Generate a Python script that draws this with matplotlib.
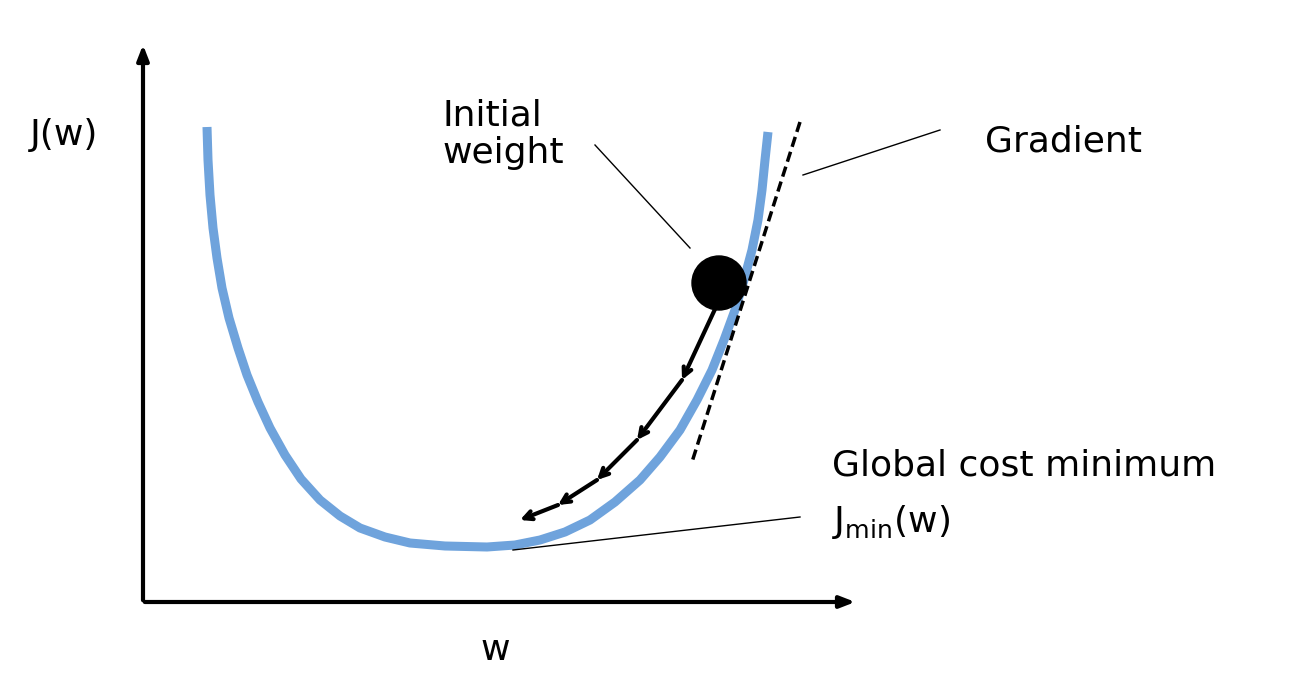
import matplotlib.pyplot as plt
from matplotlib.patches import Circle

# cost curve J(w) in pixel coordinates
curve_x = [207, 208, 210, 213, 217, 222, 229, 238, 247, 258, 270, 285, 301, 320, 340, 360, 385, 410, 445, 487,
           515, 540, 565, 590, 615, 640, 660, 680, 697, 712, 724, 735, 744, 752, 758, 762, 765, 768]
curve_y = [127, 160, 195, 228, 258, 288, 318, 348, 375, 402, 428, 455, 479, 500, 516, 528, 537, 543, 546, 547,
           545, 540, 532, 520, 502, 480, 457, 430, 400, 370, 340, 310, 280, 250, 220, 190, 160, 132]

# descent steps (arrow tails and heads)
step_x = [716, 682, 637, 597, 558, 520]
step_y = [307, 380, 440, 480, 505, 520]

ball = (719, 283)
tangent_x = [800, 692]
tangent_y = [122, 462]

fig = plt.figure(figsize=(13.14, 6.92), dpi=100)
ax = fig.add_axes([0, 0, 1, 1])
ax.set_xlim(0, 1314)
ax.set_ylim(692, 0)
ax.axis('off')

# axes arrows
ax.annotate('', xy=(143, 42), xytext=(143, 603),
            arrowprops=dict(arrowstyle='-|>,head_length=0.9,head_width=0.35', lw=3, color='black'))
ax.annotate('', xy=(858, 602), xytext=(142, 602),
            arrowprops=dict(arrowstyle='-|>,head_length=0.9,head_width=0.35', lw=3, color='black'))

ax.plot(curve_x, curve_y, color='#6fa3dc', lw=6.5, solid_capstyle='butt')
ax.plot(tangent_x, tangent_y, color='black', lw=2.5, ls=(0, (3, 1.5)))

for i in range(len(step_x) - 1):
    ax.annotate('', xy=(step_x[i + 1], step_y[i + 1]), xytext=(step_x[i], step_y[i]),
                arrowprops=dict(arrowstyle='->,head_length=0.6,head_width=0.3', lw=3, color='black',
                                shrinkA=0, shrinkB=0))

ax.add_patch(Circle(ball, 27, color='black', zorder=5))

# annotation leader lines
ax.plot([595, 690], [145, 248], color='black', lw=1)
ax.plot([803, 940], [175, 130], color='black', lw=1)
ax.plot([513, 800], [550, 517], color='black', lw=1)

fs = 26
ax.text(442, 98, 'Initial\nweight', fontsize=fs, va='top', ha='left', linespacing=1.15)
ax.text(985, 142, 'Gradient', fontsize=fs, va='center', ha='left')
ax.text(832, 465, 'Global cost minimum', fontsize=fs, va='center', ha='left')
ax.text(832, 522, r'J$_{\mathregular{min}}$(w)', fontsize=fs, va='center', ha='left')
ax.text(30, 135, 'J(w)', fontsize=fs, va='center', ha='left')
ax.text(495, 650, 'w', fontsize=fs, va='center', ha='center')

fig.savefig('out.png', dpi=100)
